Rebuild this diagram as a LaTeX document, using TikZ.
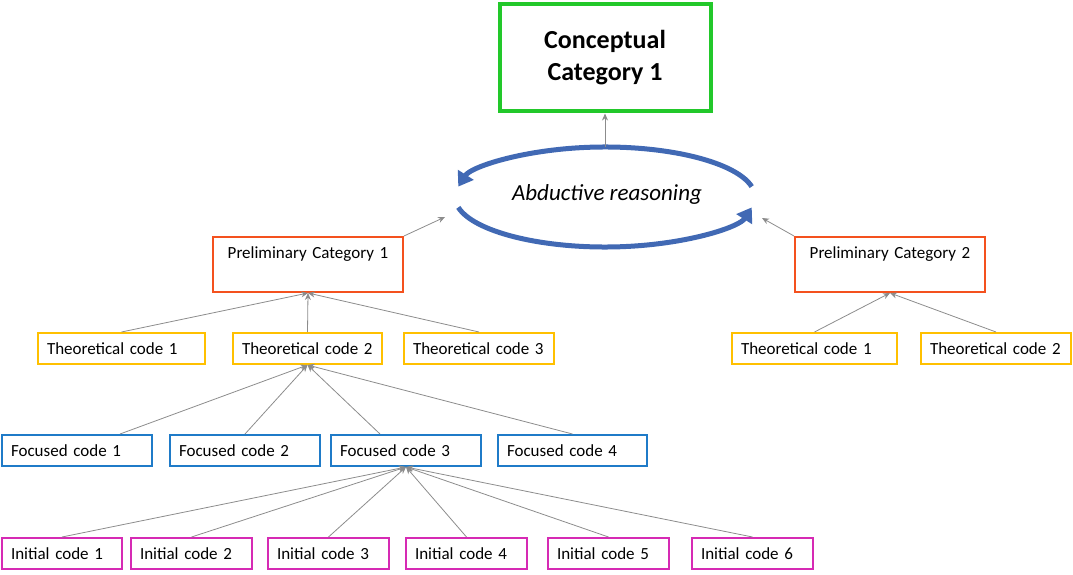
\documentclass[tikz,border=0pt]{standalone}
\usepackage{fontspec}
\setmainfont{Carlito}
\usetikzlibrary{arrows.meta}
\definecolor{cgreen}{HTML}{22C82A}
\definecolor{cred}{HTML}{F4511E}
\definecolor{cyel}{HTML}{FFC000}
\definecolor{cblue}{HTML}{1F7BC8}
\definecolor{cmag}{HTML}{D62AB4}
\definecolor{carc}{HTML}{4169B4}
\definecolor{cline}{HTML}{8C8C8C}
\begin{document}
\begin{tikzpicture}[x=1pt,y=-1pt,
  box/.style={draw,line width=2pt,minimum height=31pt,inner ysep=0pt,inner xsep=9pt,font=\fontsize{17pt}{20pt}\selectfont,anchor=center,align=left},
  pc/.style={box,draw=cred,minimum height=55pt,text depth=26pt,text height=13pt,text width=172pt,align=center},
  tc/.style={box,draw=cyel},
  fc/.style={box,draw=cblue},
  ic/.style={box,draw=cmag},
  con/.style={draw=cline,line width=0.8pt,-{Stealth[length=7pt,width=6pt]}},
  arc/.style={draw=carc,line width=5pt,-{Triangle[length=14pt,width=18pt]}}]
\useasboundingbox (0,0) rectangle (1073,575);
\node[draw=cgreen,line width=4pt,minimum width=211pt,minimum height=107pt,align=center,font=\fontsize{26pt}{32pt}\selectfont\bfseries] (cc) at (605,58) {Conceptual\\Category 1};
\node[font=\fontsize{23pt}{26pt}\selectfont\itshape] (ab) at (607,194) {Abductive reasoning};
\coordinate (ctr) at (605,197);
\draw[arc] ([shift={(12:150pt and 50pt)}]ctr) arc[start angle=12,end angle=168,x radius=150pt,y radius=50pt];
\draw[arc] ([shift={(192:150pt and 50pt)}]ctr) arc[start angle=192,end angle=348,x radius=150pt,y radius=50pt];
\coordinate (abtop) at (605,147);
\coordinate (abl) at (445,217);
\coordinate (abr) at (762,218);
\draw[con] (abtop) -- (cc.south);

\node[pc] (p1) at (308,264.5) {Preliminary Category 1};
\node[pc] (p2) at (890,264.5) {Preliminary Category 2};
\draw[con] (p1.north east) -- (abl);
\draw[con] (p2.north west) -- (abr);

\node[tc,text width=149pt] (t1) at (121.5,348.5) {Theoretical code 1};
\node[tc,text width=131pt] (t2) at (307.5,348.5) {Theoretical code 2};
\node[tc,text width=132pt] (t3) at (479,348.5) {Theoretical code 3};
\node[tc,text width=147pt] (t4) at (814.5,348.5) {Theoretical code 1};
\node[tc,text width=132pt] (t5) at (996,348.5) {Theoretical code 2};
\foreach \n in {t1,t2,t3} \draw[con] (\n.north) -- (p1.south);
\foreach \n in {t4,t5} \draw[con] (\n.north) -- (p2.south);

\node[fc,text width=132pt] (f1) at (77,450.5) {Focused code 1};
\node[fc,text width=132pt] (f2) at (245,450.5) {Focused code 2};
\node[fc,text width=132pt] (f3) at (406,450.5) {Focused code 3};
\node[fc,text width=131pt] (f4) at (572.5,450.5) {Focused code 4};
\draw[con] ([xshift=43pt]f1.north) -- (t2.south);
\draw[con] (f2.north) -- (t2.south);
\draw[con] ([xshift=-26pt]f3.north) -- (t2.south);
\draw[con] (f4.north) -- (t2.south);

\node[ic,text width=102pt] (i1) at (62,553.5) {Initial code 1};
\node[ic,text width=103pt] (i2) at (191.5,553.5) {Initial code 2};
\node[ic,text width=103pt] (i3) at (328.5,553.5) {Initial code 3};
\node[ic,text width=103pt] (i4) at (466.5,553.5) {Initial code 4};
\node[ic,text width=103pt] (i5) at (608.5,553.5) {Initial code 5};
\node[ic,text width=103pt] (i6) at (752.5,553.5) {Initial code 6};
\foreach \n in {i1,i2,i3,i4,i5,i6} \draw[con] (\n.north) -- (f3.south);
\end{tikzpicture}
\end{document}
